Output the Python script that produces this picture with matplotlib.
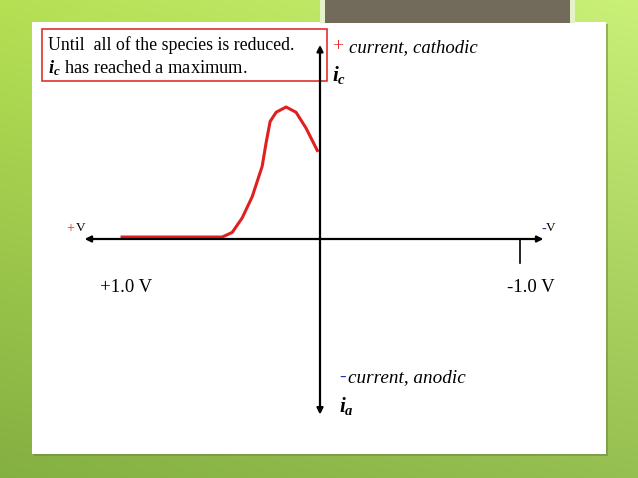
import numpy as np
import matplotlib
matplotlib.use("Agg")
import matplotlib.pyplot as plt
from matplotlib.patches import Rectangle

plt.rcParams['font.family'] = ['Liberation Serif', 'DejaVu Serif']
plt.rcParams['mathtext.fontset'] = 'custom'
plt.rcParams['mathtext.rm'] = 'Liberation Serif'
plt.rcParams['mathtext.it'] = 'Liberation Serif:italic'
plt.rcParams['mathtext.bf'] = 'Liberation Serif:bold:italic'

# ---- data: reduction wave (potential in V, current in arb. units)
potencial = [1.0, 0.49, 0.44, 0.39, 0.34, 0.29, 0.27, 0.25, 0.22, 0.17, 0.12, 0.07, 0.01]
corrent = [0.015, 0.015, 0.05, 0.16, 0.32, 0.55, 0.73, 0.89, 0.96, 1.0, 0.96, 0.84, 0.66]
tick_E = -1.0
etiquetes = ["+1.0 V", "-1.0 V"]

W, H = 638, 478
fig = plt.figure(figsize=(W / 100, H / 100), dpi=100)

# ---- fons verd de la diapositiva
bg = fig.add_axes([0, 0, 1, 1], zorder=0)
yy, xx = np.mgrid[0:1:120j, 0:1:160j]
tl = np.array([0.71, 0.88, 0.33])
tr = np.array([0.79, 0.94, 0.47])
bl = np.array([0.52, 0.69, 0.26])
br = np.array([0.59, 0.75, 0.32])
grad = ((1 - yy)[..., None] * ((1 - xx)[..., None] * tl + xx[..., None] * tr)
        + yy[..., None] * ((1 - xx)[..., None] * bl + xx[..., None] * br))
bg.imshow(grad, extent=[0, W, H, 0], aspect='auto', interpolation='bilinear')
bg.set_xlim(0, W)
bg.set_ylim(H, 0)
bg.axis('off')

# caixa blanca amb ombra i rectangle gris de la part superior
bg.add_patch(Rectangle((34, 24), 574, 432, color='#6f8a4a', alpha=0.6, lw=0))
bg.add_patch(Rectangle((32, 22), 574, 432, color='white', lw=0))
bg.add_patch(Rectangle((320, 0), 255, 23, color='#e4f2c8', lw=0))
bg.add_patch(Rectangle((325, 0), 245, 23, color='#726a5b', lw=0))

# recuadre vermell amb el text
bg.add_patch(Rectangle((42, 29), 285, 52, fill=False, ec='#e03030', lw=1.2))
bg.text(48, 45, "Until  all of the species is reduced.", fontsize=12.8,
        va='center', ha='left', color='black')
bg.text(48, 68, r"$\mathbf{i_c}$ has reached a maximum.", fontsize=13.2,
        va='center', ha='left', color='black')

# etiquetes dels eixos
bg.text(332, 47, "+", color='#e03030', fontsize=14, va='center', ha='left')
bg.text(349, 48, "current, cathodic", fontstyle='italic', fontsize=13.5,
        va='center', ha='left')
bg.text(332, 75, r"$\mathbf{i_c}$", fontsize=15, va='center', ha='left')
bg.text(339, 377, "-", color='#2030a0', fontsize=14, va='center', ha='left')
bg.text(348, 378, "current, anodic", fontstyle='italic', fontsize=13.8,
        va='center', ha='left')
bg.text(339, 406, r"$\mathbf{i_a}$", fontsize=15, va='center', ha='left')

bg.text(66, 229, "+", color='#e03030', fontsize=10, va='center', ha='left')
bg.text(76, 228, "V", fontsize=9.5, va='center', ha='left')
bg.text(541, 229, "-", color='#2030a0', fontsize=10, va='center', ha='left')
bg.text(546, 228, "V", fontsize=9.5, va='center', ha='left')

bg.text(126, 287, etiquetes[0], fontsize=13.5, va='center', ha='center')
bg.text(531, 287, etiquetes[1], fontsize=13.5, va='center', ha='center')

# ---- diagrama: E a l'eix x (positiu a l'esquerra), corrent a l'eix y
ax = fig.add_axes([0, 0, 1, 1], zorder=1)
ax.patch.set_visible(False)
ax.set_xlim(320 / 199.5, (320 - W) / 199.5)
ax.set_ylim((239 - H) / 132, 239 / 132)
ax.axis('off')

fletxa = dict(arrowstyle='<|-|>', color='black', lw=1.6, mutation_scale=9,
              shrinkA=0, shrinkB=0)
ax.annotate("", xy=(1.18, 0), xytext=(-1.12, 0), arrowprops=fletxa)
ax.annotate("", xy=(0, 1.47), xytext=(0, -1.33), arrowprops=fletxa)
ax.plot([tick_E, tick_E], [0, -0.18], color='black', lw=1.2)

ax.plot(potencial, corrent, color='#e02020', lw=2.2, solid_capstyle='butt')

fig.savefig("out.png", dpi=100)
